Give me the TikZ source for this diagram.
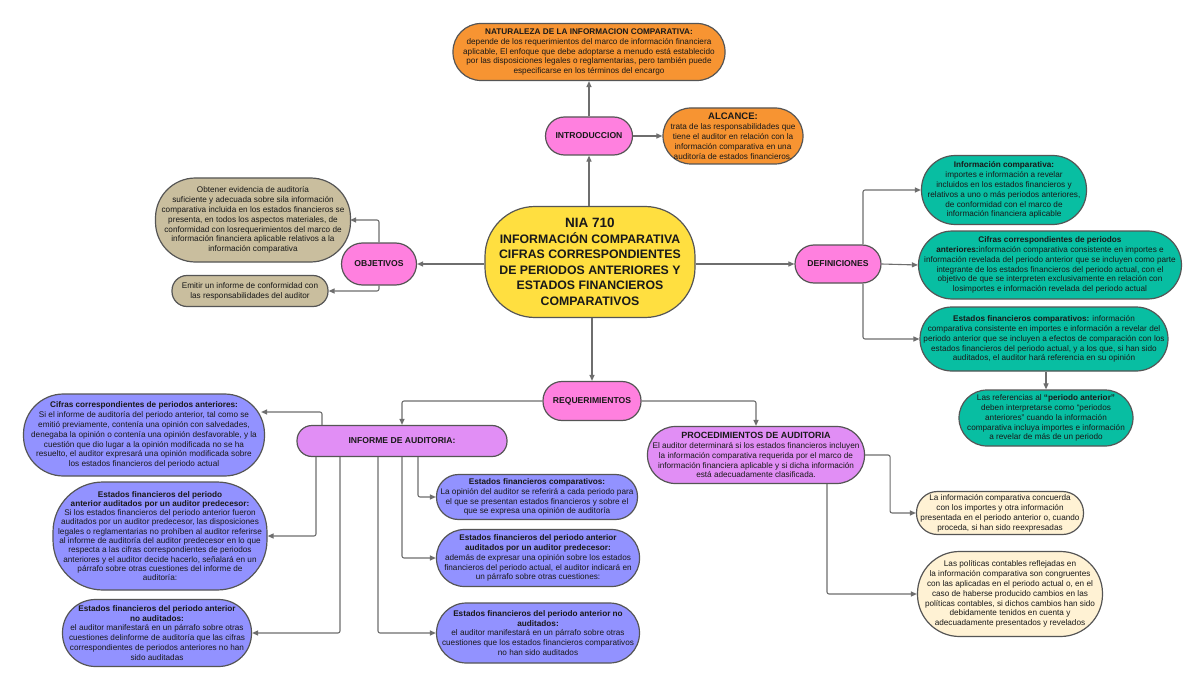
\documentclass[tikz,border=0pt]{standalone}
\usepackage{fontspec}
\setmainfont{Liberation Sans}
\usetikzlibrary{arrows.meta}
\definecolor{corange}{RGB}{247,148,50}
\definecolor{cpink}{RGB}{255,128,223}
\definecolor{cyellow}{RGB}{255,223,64}
\definecolor{cteal}{RGB}{8,190,162}
\definecolor{ctan}{RGB}{201,190,158}
\definecolor{cblue}{RGB}{146,146,255}
\definecolor{cviolet}{RGB}{225,142,245}
\definecolor{cbeige}{RGB}{255,242,212}
\definecolor{bordc}{RGB}{85,85,85}
\definecolor{linec}{RGB}{110,110,110}
\definecolor{txt}{RGB}{25,25,25}
\tikzset{
  pill/.style n args={3}{shape=rectangle, draw=bordc, line width=1.2pt,
    minimum width=#1pt, minimum height=#2pt, rounded corners=#3pt,
    inner sep=0pt, align=center, text=txt},
  small/.style={font=\fontsize{8.2}{9.9}\selectfont},
  lab/.style={font=\fontsize{8.6}{10}\selectfont\bfseries},
  arr/.style={draw=linec, line width=1.1pt, rounded corners=2pt,
    -{Triangle[length=6pt,width=5pt]}}
}
\begin{document}
\begin{tikzpicture}[x=1pt,y=-1pt]
\path[fill=white,use as bounding box] (0,0) rectangle (1200,690);

% top
\node[pill={272}{57}{28}, fill=corange, small] (nat) at (589,52)
 {\textbf{NATURALEZA DE LA INFORMACION COMPARATIVA:}\\
  depende de los requerimientos del marco de información financiera\\
  aplicable, El enfoque que debe adoptarse a menudo está establecido\\
  por las disposiciones legales o reglamentarias, pero también puede\\
  especificarse en los términos del encargo};
\node[pill={87}{38}{19}, fill=cpink, lab] (intro) at (589,136) {INTRODUCCION};
\node[pill={140}{56}{28}, fill=corange, small] (alc) at (733,136)
 {{\fontsize{9.5}{11}\selectfont\bfseries ALCANCE:}\\
  trata de las responsabilidades que\\
  tiene el auditor en relación con la\\
  información comparativa en una\\
  auditoría de estados financieros.};

% main
\node[pill={210}{111}{50}, fill=cyellow, font=\fontsize{12.3}{15.5}\selectfont\bfseries] (main) at (590,262)
 {{\fontsize{13.5}{15.5}\selectfont NIA 710}\\
  INFORMACIÓN COMPARATIVA\\
  CIFRAS CORRESPONDIENTES\\
  DE PERIODOS ANTERIORES Y\\
  ESTADOS FINANCIEROS\\
  COMPARATIVOS};

% objetivos
\node[pill={75}{42}{21}, fill=cpink, lab] (obj) at (379,264) {OBJETIVOS};
\node[pill={195}{84}{40}, fill=ctan, small] (ob1) at (253,220)
 {Obtener evidencia de auditoría\\
  suficiente y adecuada sobre sila información\\
  comparativa incluida en los estados financieros se\\
  presenta, en todos los aspectos materiales, de\\
  conformidad con losrequerimientos del marco de\\
  información financiera aplicable relativos a la\\
  información comparativa};
\node[pill={156}{31}{15}, fill=ctan, small] (ob2) at (250,291)
 {Emitir un informe de conformidad con\\
  las responsabilidades del auditor};

% definiciones
\node[pill={86}{38}{19}, fill=cpink, lab] (def) at (838,264) {DEFINICIONES};
\node[pill={165}{69}{34}, fill=cteal, small] (d1) at (1004,190)
 {\textbf{Información comparativa:}\\
  importes e información a revelar\\
  incluidos en los estados financieros y\\
  relativos a uno o más periodos anteriores,\\
  de conformidad con el marco de\\
  información financiera aplicable};
\node[pill={263}{68}{34}, fill=cteal, small] (d2) at (1050,265)
 {\textbf{Cifras correspondientes de periodos}\\
  \textbf{anteriores:}información comparativa consistente en importes e\\
  información revelada del periodo anterior que se incluyen como parte\\
  integrante de los estados financieros del periodo actual, con el\\
  objetivo de que se interpreten exclusivamente en relación con\\
  losimportes e información revelada del periodo actual};
\node[pill={248}{64}{32}, fill=cteal, small] (d3) at (1044,339)
 {\textbf{Estados financieros comparativos:} información\\
  comparativa consistente en importes e información a revelar del\\
  periodo anterior que se incluyen a efectos de comparación con los\\
  estados financieros del periodo actual, y a los que, si han sido\\
  auditados, el auditor hará referencia en su opinión};
\node[pill={174}{56}{28}, fill=cteal, small] (d4) at (1046,418)
 {Las referencias al \textbf{“periodo anterior”}\\
  deben interpretarse como “periodos\\
  anteriores” cuando la información\\
  comparativa incluya importes e información\\
  a revelar de más de un periodo};

% requerimientos
\node[pill={98}{39}{19}, fill=cpink, lab] (req) at (592,401) {REQUERIMIENTOS};
\node[pill={217}{57}{28}, fill=cviolet, small] (proc) at (756,455)
 {{\fontsize{9}{10.5}\selectfont\bfseries PROCEDIMIENTOS DE AUDITORIA}\\
  El auditor determinará si los estados financieros incluyen\\
  la información comparativa requerida por el marco de\\
  información financiera aplicable y si dicha información\\
  está adecuadamente clasificada.};
\node[pill={167}{43}{21}, fill=cbeige, small] (b1) at (1000,513)
 {La información comparativa concuerda\\
  con los importes y otra información\\
  presentada en el periodo anterior o, cuando\\
  proceda, si han sido reexpresadas};
\node[pill={185}{85}{42}, fill=cbeige, small] (b2) at (1010,594)
 {Las políticas contables reflejadas en\\
  la información comparativa son congruentes\\
  con las aplicadas en el periodo actual o, en el\\
  caso de haberse producido cambios en las\\
  políticas contables, si dichos cambios han sido\\
  debidamente tenidos en cuenta y\\
  adecuadamente presentados y revelados};

% informe
\node[pill={210}{31}{15}, fill=cviolet, lab] (inf) at (402,441) {INFORME DE AUDITORIA:};
\node[pill={241}{82}{40}, fill=cblue, small] (L1) at (144,435)
 {\textbf{Cifras correspondientes de periodos anteriores:}\\
  Si el informe de auditoría del periodo anterior, tal como se\\
  emitió previamente, contenía una opinión con salvedades,\\
  denegaba la opinión o contenía una opinión desfavorable, y la\\
  cuestión que dio lugar a la opinión modificada no se ha\\
  resuelto, el auditor expresará una opinión modificada sobre\\
  los estados financieros del periodo actual};
\node[pill={214}{108}{50}, fill=cblue, font=\fontsize{8.2}{9.3}\selectfont] (L2) at (160,536)
 {\textbf{Estados financieros del periodo}\\
  \textbf{anterior auditados por un auditor predecesor:}\\
  Si los estados financieros del periodo anterior fueron\\
  auditados por un auditor predecesor, las disposiciones\\
  legales o reglamentarias no prohíben al auditor referirse\\
  al informe de auditoría del auditor predecesor en lo que\\
  respecta a las cifras correspondientes de periodos\\
  anteriores y el auditor decide hacerlo, señalará en un\\
  párrafo sobre otras cuestiones del informe de\\
  auditoría:};
\node[pill={189}{67}{33}, fill=cblue, small] (L3) at (157,633)
 {\textbf{Estados financieros del periodo anterior}\\
  \textbf{no auditados:}\\
  el auditor manifestará en un párrafo sobre otras\\
  cuestiones delinforme de auditoría que las cifras\\
  correspondientes de periodos anteriores no han\\
  sido auditadas};
\node[pill={201}{45}{22}, fill=cblue, small] (R1) at (537,497)
 {\textbf{Estados financieros comparativos:}\\
  La opinión del auditor se referirá a cada periodo para\\
  el que se presentan estados financieros y sobre el\\
  que se expresa una opinión de auditoría};
\node[pill={203}{57}{28}, fill=cblue, small] (R2) at (538,558)
 {\textbf{Estados financieros del periodo anterior}\\
  \textbf{auditados por un auditor predecesor:}\\
  además de expresar una opinión sobre los estados\\
  financieros del periodo actual, el auditor indicará en\\
  un párrafo sobre otras cuestiones:};
\node[pill={203}{60}{30}, fill=cblue, small] (R3) at (538,633)
 {\textbf{Estados financieros del periodo anterior no}\\
  \textbf{auditados:}\\
  el auditor manifestará en un párrafo sobre otras\\
  cuestiones que los estados financieros comparativos\\
  no han sido auditados};

% connectors
\draw[arr] (main.north -| intro) -- (intro.south);
\draw[arr] (intro.north) -- (nat.south -| intro);
\draw[arr] (intro.east) -- (alc.west);
\draw[arr] (main.west |- obj) -- (obj.east);
\draw[arr] (obj.north) |- ([xshift=-1pt]ob1.east);
\draw[arr] (obj.south) |- (ob2.east);
\draw[arr] (main.east |- def) -- (def.west);
\draw[arr] ([xshift=25pt]def.north) |- (d1.west);
\draw[arr] (def.east) -- (d2.west);
\draw[arr] ([xshift=25pt]def.south) |- (d3.west);
\draw[arr] (d3.south -| d4) -- (d4.north);
\draw[arr] (main.south -| req) -- (req.north);
\draw[arr] (req.east) -| (proc.north);
\draw[arr] (req.west) -| (inf.north);
\draw[arr] (proc.east) -- ++(25,0) |- (b1.west);
\draw[arr] ([xshift=71pt]proc.south) |- (b2.west);
\draw[arr] ([xshift=-80pt]inf.north) |- ([xshift=-4pt,yshift=23pt]L1.east);
\draw[arr] ([xshift=-86pt]inf.south) |- (L2.east);
\draw[arr] ([xshift=-62pt]inf.south) |- (L3.east);
\draw[arr] ([xshift=-24pt]inf.south) |- (R3.west);
\draw[arr] (inf.south) |- (R2.west);
\draw[arr] ([xshift=16pt]inf.south) |- (R1.west);
\end{tikzpicture}
\end{document}
